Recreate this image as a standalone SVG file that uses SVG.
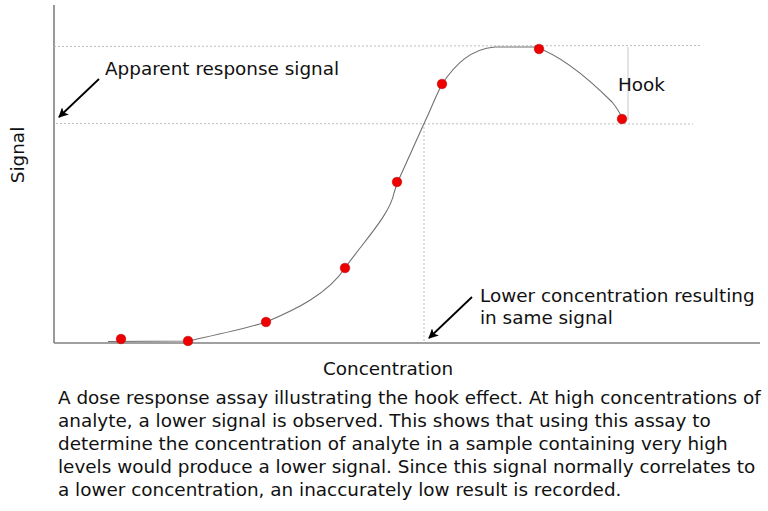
<svg xmlns="http://www.w3.org/2000/svg" width="768" height="511" viewBox="0 0 768 511">
<defs>
<style>
text{font-family:"DejaVu Sans","Liberation Sans",sans-serif;font-size:18.4px;fill:#111}
.axis{stroke:#808080;stroke-width:1.6;fill:none}
.guide{stroke:#bdbdbd;stroke-width:1;stroke-dasharray:2 2;fill:none}
.hook{stroke:#c8c8c8;stroke-width:1;fill:none}
.curve{stroke:#707070;stroke-width:1.1;fill:none}
.pt{fill:#ee0000;stroke:#b00000;stroke-width:0.5}
.arrow{stroke:#000;stroke-width:1.8;fill:none;marker-end:url(#ah)}
</style>
<marker id="ah" viewBox="0 0 10 10" refX="9" refY="5" markerWidth="5.5" markerHeight="5.5" orient="auto" markerUnits="strokeWidth">
<path d="M0,0 L10,5 L0,10 L2.5,5 Z" fill="#000"/>
</marker>
</defs>
<rect width="768" height="511" fill="#fff"/>
<g id="axes">
<line class="axis" x1="54" y1="5" x2="54" y2="343"/>
<line class="axis" x1="54" y1="343" x2="760" y2="343"/>
</g>
<g id="guides">
<line class="guide" x1="54" y1="46.5" x2="702" y2="45.5"/>
<line class="guide" x1="56" y1="123.5" x2="693" y2="124"/>
<line class="guide" x1="424" y1="123" x2="424" y2="343"/>
<line class="hook" x1="628" y1="47" x2="628" y2="120"/>
</g>
<g id="curve">
<path class="curve" d="M108,341.5 L188,341 C215,335 245,329 266,322 C295,310 328,294 345,268 C365,240 390,214 394,193 C396,186 397,184 399,179 C410,155 420,132 428,115 C434,101 438,92 442,84 C455,65 470,49 495,47 L535,47 C560,55 590,80 612,102 C617,108 620,113 622,118"/>
</g>
<g id="points">
<circle class="pt" cx="121" cy="339" r="4.8"/>
<circle class="pt" cx="188" cy="341" r="4.8"/>
<circle class="pt" cx="266" cy="322" r="4.8"/>
<circle class="pt" cx="345" cy="268" r="4.8"/>
<circle class="pt" cx="397" cy="182" r="4.8"/>
<circle class="pt" cx="442" cy="84" r="4.8"/>
<circle class="pt" cx="539" cy="49" r="4.8"/>
<circle class="pt" cx="622" cy="119" r="4.8"/>
</g>
<g id="connectors">
<line class="arrow" x1="99" y1="79" x2="59" y2="117"/>
<line class="arrow" x1="472" y1="297" x2="429" y2="338"/>
</g>
<g id="label-apparent"><text x="105" y="75">Apparent response signal</text></g>
<g id="label-hook"><text x="618" y="91">Hook</text></g>
<g id="label-lower"><text x="480" y="302">Lower concentration resulting</text><text x="480" y="324">in same signal</text></g>
<g id="label-signal"><text transform="translate(24,155) rotate(-90)" text-anchor="middle">Signal</text></g>
<g id="label-concentration"><text x="388" y="375" text-anchor="middle">Concentration</text></g>
<g id="caption">
<text x="58" y="404">A dose response assay illustrating the hook effect. At high concentrations of</text>
<text x="58" y="427">analyte, a lower signal is observed. This shows that using this assay to</text>
<text x="58" y="450">determine the concentration of analyte in a sample containing very high</text>
<text x="58" y="473">levels would produce a lower signal. Since this signal normally correlates to</text>
<text x="58" y="496">a lower concentration, an inaccurately low result is recorded.</text>
</g>
</svg>
